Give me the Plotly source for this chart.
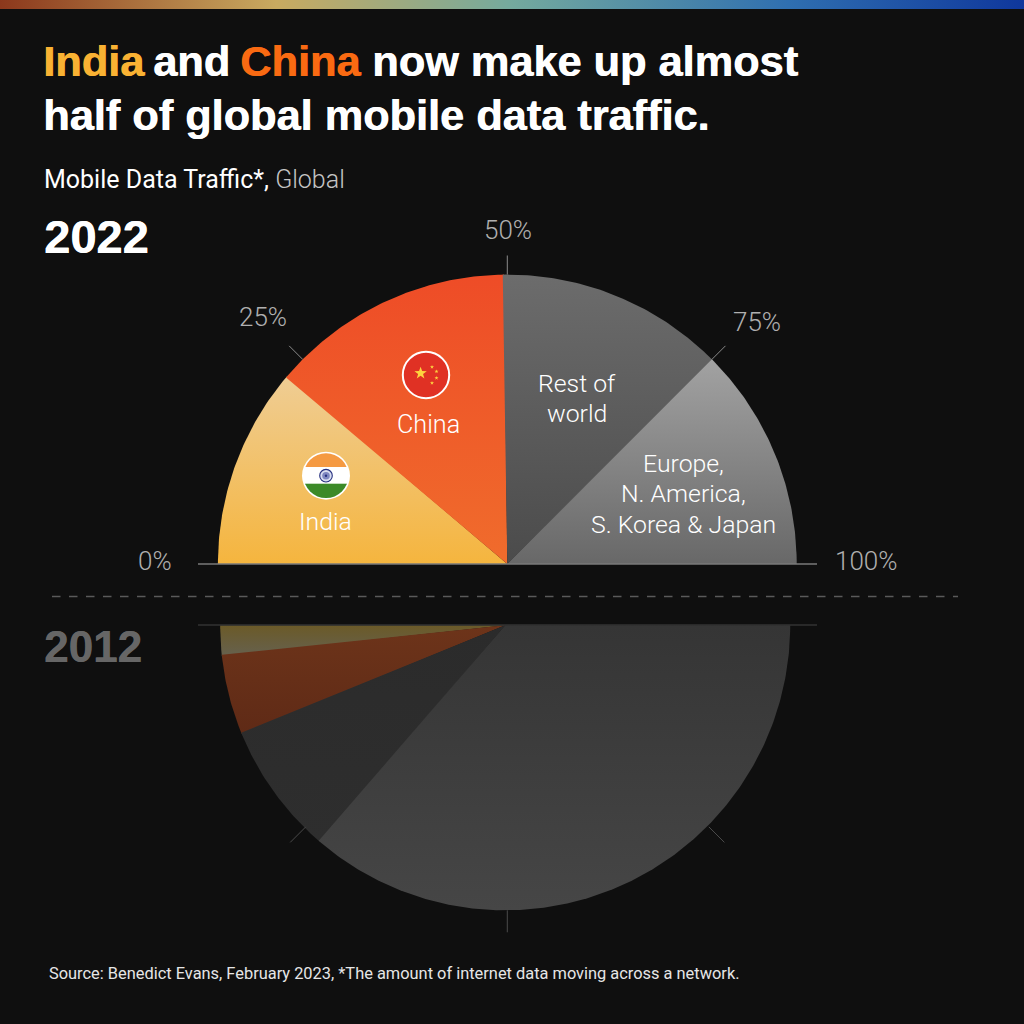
import base64
import math
import plotly.graph_objects as go

# Share of global mobile data traffic, %
segments = ["India", "China", "Rest of world", "Europe, N. America, S. Korea & Japan"]
share_2022 = [22.3, 27.2, 25.5, 25.0]
share_2012 = [3.3, 9.0, 15.0, 72.7]
tick_percents = [25, 50, 75]
tick_labels_2022 = ["0%", "25%", "50%", "75%", "100%"]

BG = "#0f0f0f"
HEAVY = "Liberation Sans"
LIGHT = "Roboto"

# Vertical gradients per segment, top colour then bottom colour
grad_2022 = [("#efcd94", "#f5b53e"), ("#ee4c27", "#f06c2c"), ("#6c6c6c", "#4b4b4b"), ("#a2a2a2", "#686868")]
grad_2012 = [("#6b5a28", "#66614e"), ("#6d341a", "#5f2a16"), ("#2b2b2b", "#2e2e2e"), ("#353535", "#464646")]

fig = go.Figure()


def sector(cx, cy, r, p0, p1, up):
    """Outline of a half-pie sector between two percentages (0% = left, 100% = right)."""
    n = max(2, int((p1 - p0) * 3))
    sign = -1 if up else 1
    xs, ys = [cx], [cy]
    for i in range(n + 1):
        a = math.pi * (p0 + (p1 - p0) * i / n) / 100
        xs.append(cx - r * math.cos(a))
        ys.append(cy + sign * r * math.sin(a))
    xs.append(cx)
    ys.append(cy)
    return xs, ys


def half_pie(values, grads, cx, cy, r, up):
    total = 0
    for name, v, (c0, c1) in zip(segments, values, grads):
        # A hairline of overlap under the next sector keeps the seams free of background
        xs, ys = sector(cx, cy, r, total, min(100, total + v + 0.15), up)
        fig.add_trace(go.Scatter(
            x=xs, y=ys, mode="lines", line=dict(width=0), fill="toself", name=name,
            fillgradient=dict(type="vertical", colorscale=[[0, c0], [1, c1]], start=min(ys), stop=max(ys)),
            hoverinfo="skip", showlegend=False,
        ))
        total += v


def line(xs, ys, color, width=1):
    fig.add_trace(go.Scatter(x=xs, y=ys, mode="lines", line=dict(color=color, width=width),
                             hoverinfo="skip", showlegend=False))


def ticks(cx, cy, r0, r1, color):
    sign = -1 if cy < 600 else 1
    for p in tick_percents:
        a = math.pi * p / 100
        line([cx - r0 * math.cos(a), cx - r1 * math.cos(a)],
             [cy + sign * r0 * math.sin(a), cy + sign * r1 * math.sin(a)], color)


# Gradient strip along the top edge
fig.add_trace(go.Scatter(
    x=[0, 1024, 1024, 0, 0], y=[0, 0, 9, 9, 0], mode="lines", line=dict(width=0), fill="toself",
    fillgradient=dict(type="horizontal", start=0, stop=1024, colorscale=[
        [0, "#8c381c"], [0.27, "#c9aa60"], [0.5, "#74aa9e"], [0.77, "#2f6fb0"], [1, "#0f379c"]]),
    hoverinfo="skip", showlegend=False,
))

half_pie(share_2022, grad_2022, 507.3, 564, 289.4, True)
half_pie(share_2012, grad_2012, 505.2, 625.3, 285, False)

# Baselines and percentage ticks
line([198, 817], [564, 564], "#7a7a7a", 1.5)
line([198, 817], [625, 625], "#333333", 1.5)
ticks(507.3, 564, 289.4, 308.5, "#8a8a8a")
ticks(507.3, 625.3, 285, 307, "#4a4a4a")

fig.add_shape(type="line", x0=52, x1=958, y0=596.5, y1=596.5, xref="x", yref="y",
              line=dict(color="#5a5a5a", width=1.5, dash="8.5px,8.5px"))


def text(x, y, s, size, color="#ffffff", family=LIGHT, weight=300, anchor="left", shadow=None):
    font = dict(family=family, size=size, color=color, weight=weight)
    if shadow:
        # Same-colour offset shadow gives the headline a heavier stroke
        font["shadow"] = f"{shadow}px 0 0 {color}"
    fig.add_annotation(x=x, y=y, xref="x", yref="y", text=s, showarrow=False, xanchor=anchor, yanchor="middle",
                       font=font, borderpad=0, borderwidth=0)


headline = [("India", 43, "#f9b233"), ("and", 153, "#ffffff"), ("China", 240, "#f96a12"),
            ("now make up almost", 372, "#ffffff")]
for word, x, color in headline:
    text(x, 61, word, 43.3, color=color, family=HEAVY, weight=700, shadow=0.7)
text(43, 115, "half of global mobile data traffic.", 43.3, family=HEAVY, weight=700, shadow=0.7)
text(44, 179, 'Mobile Data Traffic*, <span style="color:#c4c4c4;font-weight:300">Global</span>', 25, weight=400)
text(44, 236, "2022", 47, family=HEAVY, weight=700, shadow=0.5)
text(44, 646, "2012", 44, color="#666666", family=HEAVY, weight=700, shadow=0.5)

for label, x, y, a in zip(tick_labels_2022, [138, 262.5, 507.5, 757, 835], [561, 317, 230, 322, 561],
                          ["left", "center", "center", "center", "left"]):
    text(x, y, label, 26, color="#b0b0b0", anchor=a)

text(325, 521.5, segments[0], 24.8, anchor="center")
text(428.5, 424.5, segments[1], 25.2, anchor="center")
for s, y in zip(["Rest of", "world"], [383.5, 413.5]):
    text(576.5, y, s, 24.8, anchor="center")
for s, y in zip(["Europe,", "N. America,", "S. Korea &amp; Japan"], [463.5, 493.5, 524.5]):
    text(683, y, s, 24.8, anchor="center")

text(49, 973, "Source: Benedict Evans, February 2023, *The amount of internet data moving across a network.", 16.4, color="#e6e6e6", weight=400)


def star_points(cx, cy, r):
    pts = []
    for i in range(10):
        a = -math.pi / 2 + i * math.pi / 5
        q = r if i % 2 == 0 else r * 0.4
        pts.append(f"{cx + q * math.cos(a):.2f},{cy + q * math.sin(a):.2f}")
    return " ".join(pts)


# Flag badges, 50 x 50 canvas centred on (25, 25)
china_svg = (
    '<svg xmlns="http://www.w3.org/2000/svg" width="200" height="200" viewBox="0 0 50 50">'
    '<circle cx="25" cy="25" r="23.2" fill="#e03124" stroke="#ffffff" stroke-width="2"/>'
    f'<polygon points="{star_points(19.6, 23.2, 6.5)}" fill="#fdd33f"/>'
    f'<polygon points="{star_points(31, 17, 2.1)}" fill="#fdd33f"/>'
    f'<polygon points="{star_points(35.5, 21.5, 2.1)}" fill="#fdd33f"/>'
    f'<polygon points="{star_points(35.5, 28, 2.1)}" fill="#fdd33f"/>'
    f'<polygon points="{star_points(31, 33, 2.1)}" fill="#fdd33f"/>'
    '</svg>'
)
india_svg = (
    '<svg xmlns="http://www.w3.org/2000/svg" width="200" height="200" viewBox="0 0 50 50">'
    '<defs><clipPath id="c"><circle cx="25" cy="25" r="22.4"/></clipPath></defs>'
    '<circle cx="25" cy="25" r="24" fill="#ffffff"/>'
    '<g clip-path="url(#c)">'
    '<rect x="0" y="0" width="50" height="16.3" fill="#f59a42"/>'
    '<rect x="0" y="33" width="50" height="17" fill="#3c8a28"/>'
    '</g>'
    '<circle cx="25" cy="25" r="6.3" fill="#d9def0" stroke="#27307f" stroke-width="1.1"/>'
    '<circle cx="25" cy="25" r="3.8" fill="#7f88c0"/>'
    '<circle cx="25" cy="25" r="1.2" fill="#27307f"/>'
    '</svg>'
)


def badge(svg, cx, cy):
    uri = "data:image/svg+xml;base64," + base64.b64encode(svg.encode()).decode()
    fig.add_layout_image(source=uri, xref="paper", yref="paper", x=cx / 1024, y=1 - cy / 1024,
                         sizex=50 / 1024, sizey=50 / 1024, xanchor="center", yanchor="middle",
                         sizing="stretch", layer="above")


badge(china_svg, 426, 375)
badge(india_svg, 326, 475.7)

fig.update_layout(
    width=1024, height=1024, margin=dict(l=0, r=0, t=0, b=0),
    paper_bgcolor=BG, plot_bgcolor=BG, showlegend=False,
    xaxis=dict(range=[0, 1024], visible=False, fixedrange=True),
    yaxis=dict(range=[1024, 0], visible=False, fixedrange=True),
)

fig.write_html("out.html", config={"displayModeBar": False})
